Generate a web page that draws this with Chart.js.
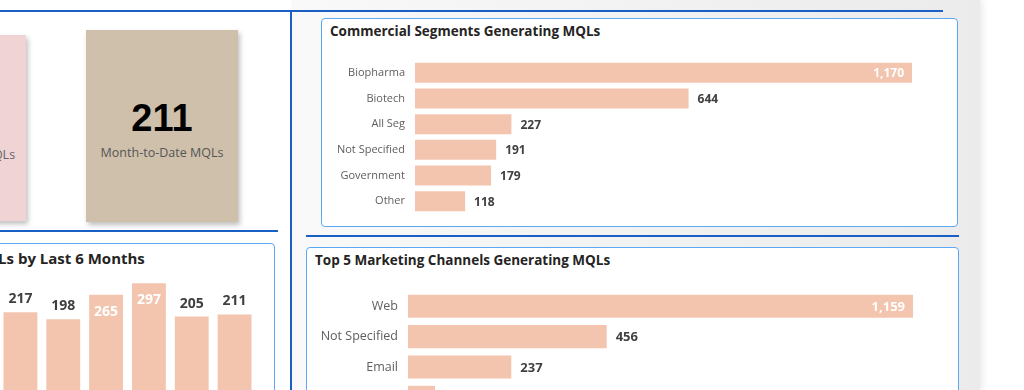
<!DOCTYPE html>
<html>
<head>
<meta charset="utf-8">
<script src="https://cdn.jsdelivr.net/npm/chart.js@4"></script>
<style>
  body { margin: 0; width: 1024px; height: 390px; overflow: hidden; position: relative; background: #fff; font-family: "Open Sans", sans-serif; }
  .abs { position: absolute; }
  .bg { left: 292px; top: 0; width: 688px; height: 390px; background: linear-gradient(to right, #f9f9f9, #ebebeb); box-shadow: 3px 0 6px rgba(0,0,0,0.08); }
  .line { background: #1a5fc4; }
  .card { background: #fff; border: 1px solid #5ba8f5; border-radius: 4px; box-sizing: border-box; }
  .kpi { box-shadow: 2px 3px 5px rgba(0,0,0,0.25); }
  .title { font-weight: bold; font-size: 13.5px; color: #252423; white-space: nowrap; }
  .big { font-family: "Liberation Sans", Arial, sans-serif; font-weight: bold; font-size: 38px; color: #000; text-align: center; }
  .cap { font-size: 12.5px; color: #555; text-align: center; white-space: nowrap; }
  canvas { position: absolute; }
</style>
</head>
<body>
<div class="abs bg"></div>

<!-- blue separator lines -->
<div class="abs line" style="left:0;top:10px;width:943px;height:2px"></div>
<div class="abs line" style="left:290px;top:10px;width:2px;height:380px"></div>
<div class="abs line" style="left:0;top:230px;width:278px;height:2px"></div>
<div class="abs line" style="left:306px;top:235px;width:653px;height:2px"></div>

<!-- KPI cards -->
<div class="abs kpi" style="left:-126px;top:35px;width:152px;height:186px;background:#efd3d5">
  <div class="abs cap" style="left:0;width:152px;top:111px;color:#666">Quarter-to-Date MQLs</div>
</div>
<div class="abs kpi" style="left:86px;top:30px;width:152px;height:192px;background:#cfc0ab">
  <div class="abs big" style="left:0;width:152px;top:67px">211</div>
  <div class="abs cap" style="left:0;width:152px;top:114px">Month-to-Date MQLs</div>
</div>

<!-- panels -->
<div class="abs card" style="left:321px;top:18px;width:637px;height:209px"></div>
<div class="abs title" style="left:330px;top:22px">Commercial Segments Generating MQLs</div>
<canvas id="segChart" width="637" height="154" style="left:321px;top:60px"></canvas>

<div class="abs card" style="left:306px;top:247px;width:653px;height:200px"></div>
<div class="abs title" style="left:315px;top:251px">Top 5 Marketing Channels Generating MQLs</div>
<canvas id="chanChart" width="653" height="152" style="left:306px;top:291px"></canvas>

<div class="abs card" style="left:-40px;top:243px;width:315px;height:200px"></div>
<div class="abs title" style="left:-28px;top:248px;font-size:15px">MQLs by Last 6 Months</div>
<canvas id="monthChart" width="257" height="127" style="left:-1px;top:264px"></canvas>

<script>
const segLabels = ["Biopharma", "Biotech", "All Seg", "Not Specified", "Government", "Other"];
const segValues = [1170, 644, 227, 191, 179, 118];

const chanLabels = ["Web", "Not Specified", "Email", "Events", "Social"];
const chanValues = [1159, 456, 237, 62, 48];

const monthLabels = ["Oct", "Nov", "Dec", "Jan", "Feb", "Mar"];
const monthValues = [217, 198, 265, 297, 205, 211];

const barColor = "#f3c4ae";

// draws the numbers next to / inside each bar
const valueLabels = {
  id: "valueLabels",
  afterDatasetsDraw(chart, args, opts) {
    const ctx = chart.ctx;
    const data = chart.data.datasets[0].data;
    const max = Math.max(...data);
    const horiz = chart.options.indexAxis === "y";
    ctx.save();
    ctx.font = "bold " + opts.size + "px 'Open Sans'";
    ctx.textBaseline = "middle";
    chart.getDatasetMeta(0).data.forEach((bar, i) => {
      const v = data[i];
      const inside = v / max > 0.85;
      const txt = v.toLocaleString("en-US");
      ctx.fillStyle = inside ? "#ffffff" : "#404040";
      if (horiz) {
        ctx.textAlign = inside ? "right" : "left";
        ctx.fillText(txt, inside ? bar.x - 8 : bar.x + 9, bar.y + 1);
      } else {
        ctx.textAlign = "center";
        ctx.fillText(txt, bar.x, inside ? bar.y + 17 : bar.y - 13);
      }
    });
    ctx.restore();
  }
};

function hbar(id, labels, values, axisWidth, labelSize, valueSize, barPct) {
  return new Chart(document.getElementById(id), {
    type: "bar",
    data: {
      labels: labels,
      datasets: [{ data: values, backgroundColor: barColor, barPercentage: barPct, categoryPercentage: 1 }]
    },
    options: {
      indexAxis: "y",
      responsive: false,
      animation: false,
      devicePixelRatio: 1,
      layout: { padding: { right: 46 } },
      plugins: { legend: { display: false }, tooltip: { enabled: false }, valueLabels: { size: valueSize } },
      scales: {
        x: { display: false, min: 0, max: Math.max(...values) },
        y: {
          grid: { display: false, drawTicks: false },
          border: { display: false },
          ticks: { padding: 10, color: "#605e5c", font: { family: "Open Sans", size: labelSize } },
          afterFit(scale) {
            scale.width = axisWidth;
            scale.paddingTop = 0;
            scale.paddingBottom = 0;
          }
        }
      }
    },
    plugins: [valueLabels]
  });
}

hbar("segChart", segLabels, segValues, 94, 11, 12, 0.78);
hbar("chanChart", chanLabels, chanValues, 102, 12.5, 13, 0.76);

new Chart(document.getElementById("monthChart"), {
  type: "bar",
  data: {
    labels: monthLabels,
    datasets: [{ data: monthValues, backgroundColor: barColor, barPercentage: 0.79, categoryPercentage: 1 }]
  },
  options: {
    responsive: false,
    animation: false,
    devicePixelRatio: 1,
    plugins: { legend: { display: false }, tooltip: { enabled: false }, valueLabels: { size: 14 } },
    scales: {
      x: { display: false },
      y: { display: false, min: 0, max: 350 }
    }
  },
  plugins: [valueLabels]
});
</script>
</body>
</html>
